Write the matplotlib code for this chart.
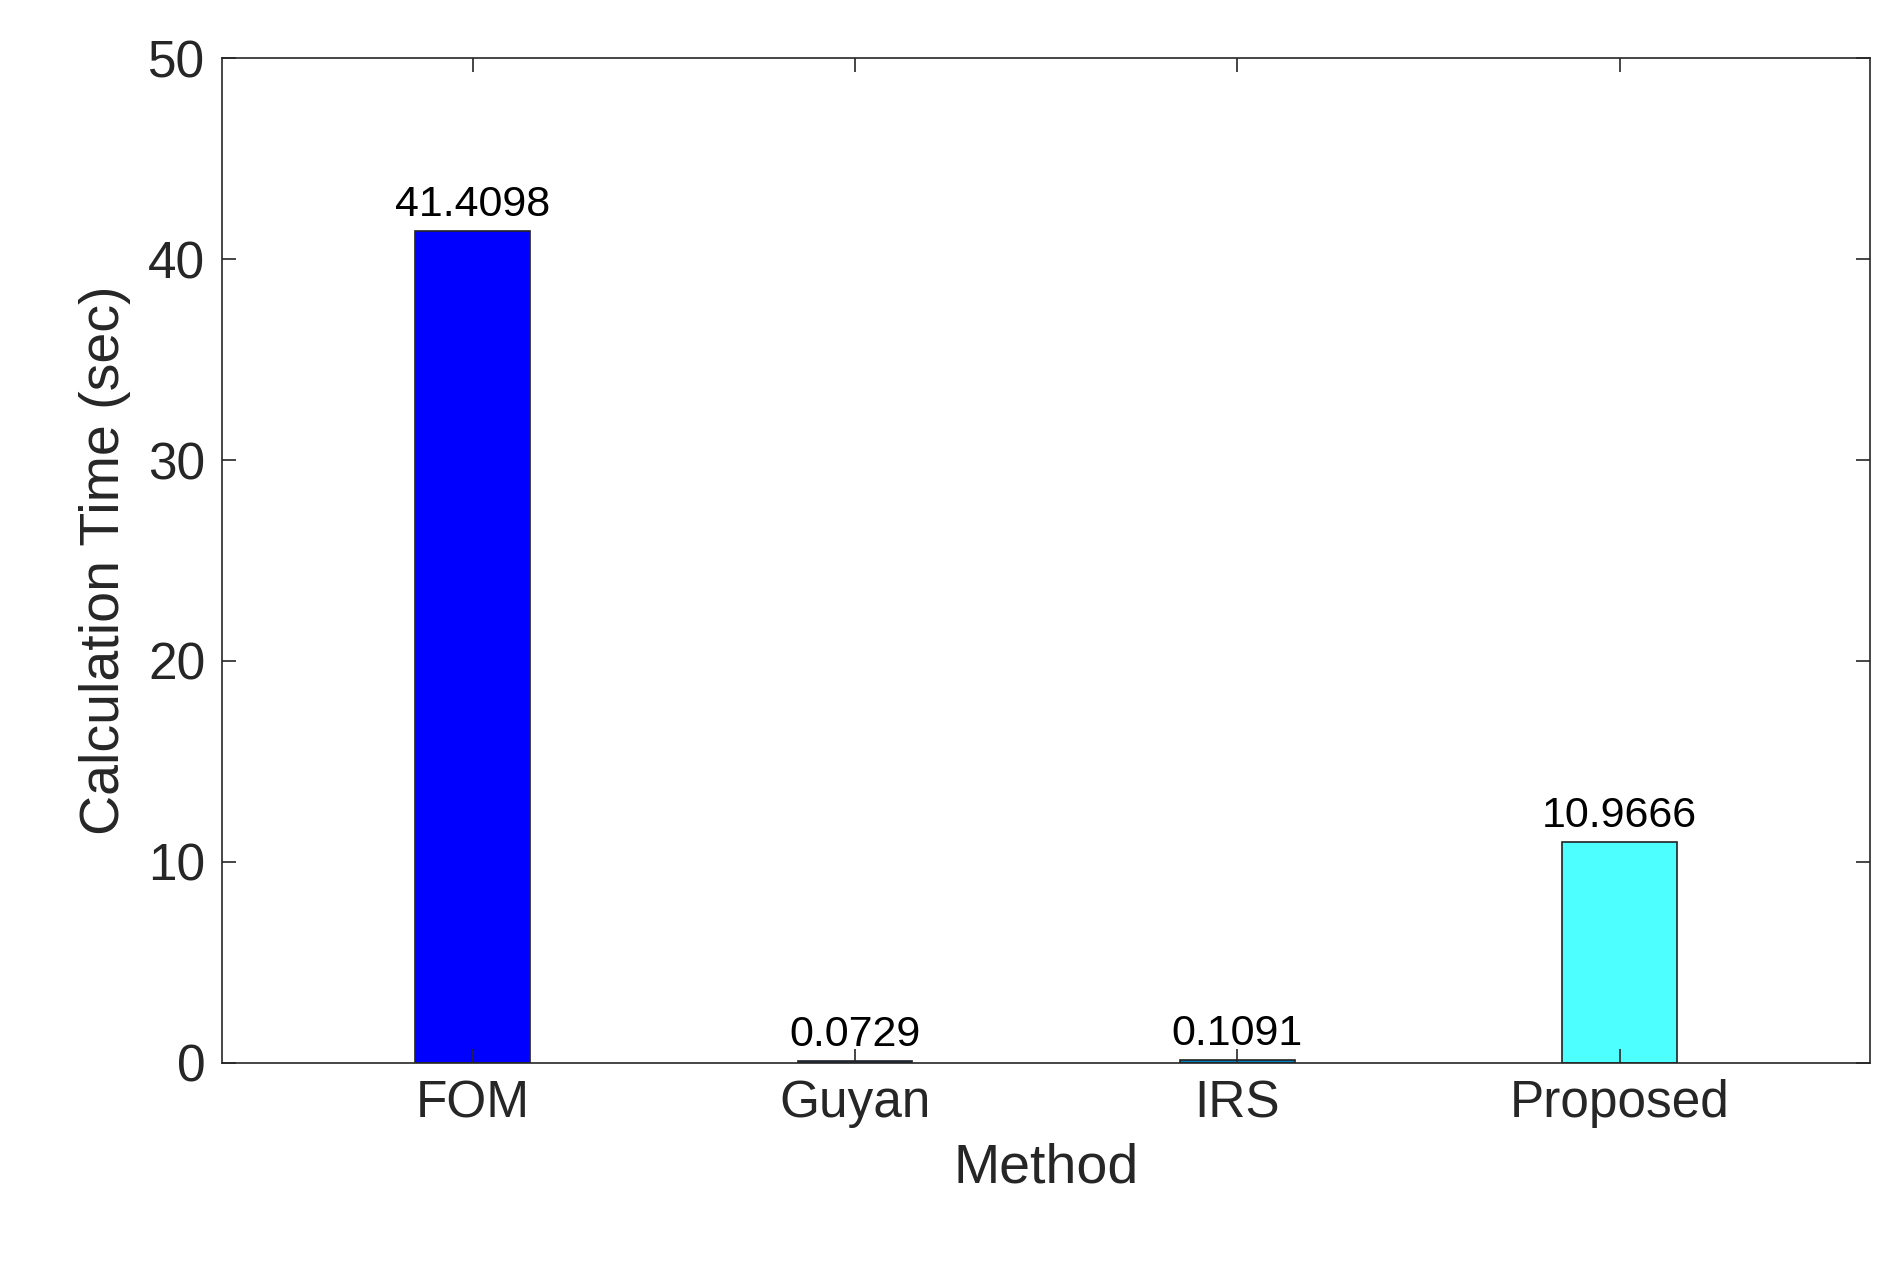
import matplotlib
matplotlib.use("Agg")
import matplotlib.pyplot as plt

methods = ["FOM", "Guyan", "IRS", "Proposed"]
times = [41.4098, 0.0729, 0.1091, 10.9666]
labels = ["41.4098", "0.0729", "0.1091", "10.9666"]
colors = ["#0000ff", "#0040a0", "#0080c0", "#4dffff"]

plt.rcParams['font.family'] = ['Liberation Sans', 'DejaVu Sans']
fig = plt.figure(figsize=(18.97, 12.71), dpi=100)
ax = fig.add_axes([0.117, 0.164, 0.869, 0.79])
x = list(range(1, len(methods) + 1))
ax.bar(x, times, width=0.3, color=colors, edgecolor="#222222", linewidth=1.2)
for xi, v, l in zip(x, times, labels):
    ax.text(xi, v + 0.3, l, ha="center", va="bottom", fontsize=31)
ax.set_xlim(0.344, 4.656)
ax.set_ylim(0, 50)
ax.set_yticks([0, 10, 20, 30, 40, 50])
ax.set_xticks(x)
ax.set_xticklabels(methods)
ax.tick_params(direction="in", top=True, right=True, labelsize=37, length=10, width=1.2, colors="#262626", pad=12)
for s in ax.spines.values():
    s.set_color("#262626")
    s.set_linewidth(1.2)
ax.set_xlabel("Method", fontsize=40, color="#262626", labelpad=10)
ax.set_ylabel("Calculation Time (sec)", fontsize=40, color="#262626", labelpad=12)
fig.savefig("out.png", dpi=100, facecolor="white")
